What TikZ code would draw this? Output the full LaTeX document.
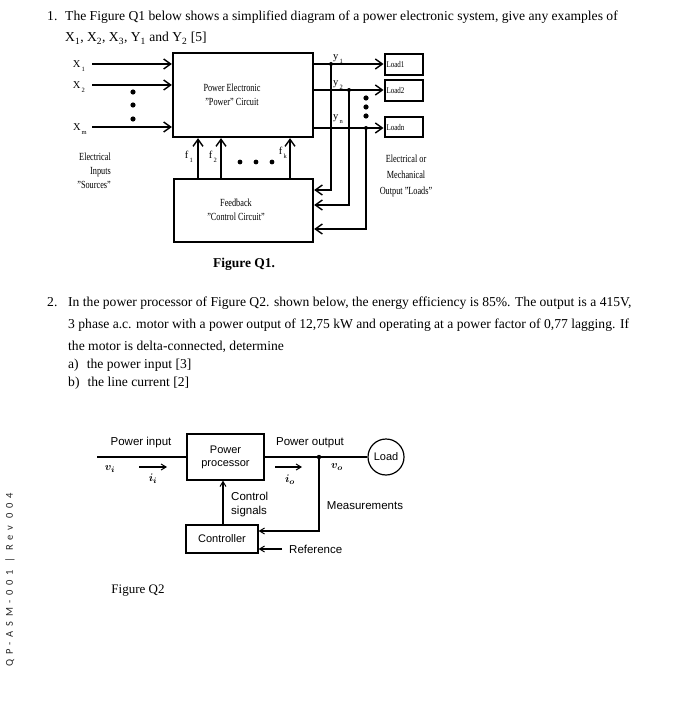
\documentclass[tikz,border=0pt]{standalone}
\usepackage{amsmath}
\usepackage{bm}
\usepackage{graphicx}
\usepackage{fontspec}
\setmainfont{Liberation Serif}
\setsansfont{Liberation Sans}
\newfontfamily\sidefont[LetterSpace=45]{Carlito}
\usetikzlibrary{arrows.meta,calc}
\tikzset{
  qone/.style={line width=1.8pt},
  qonearrow/.style={line width=1.8pt,-{Straight Barb[length=7pt,width=10pt,line width=1.4pt]}},
  qonebox/.style={draw,line width=2.3pt,rectangle,inner sep=0pt},
  loadbox/.style={draw,line width=2pt,rectangle,inner sep=2pt,font=\fontsize{7}{8}\selectfont,text width=34pt,align=left},
  smallserif/.style={font=\fontsize{8.5}{11}\selectfont,inner sep=0pt},
  lbl/.style={font=\fontsize{10.5}{10.5}\selectfont,inner sep=0pt},
  maintext/.style={font=\fontsize{13.6}{16}\selectfont,inner sep=0pt,anchor=base west},
  qtwo/.style={line width=1.1pt},
  qtwoarrow/.style={line width=1.1pt,-{Straight Barb[length=5pt,width=6pt,line width=1pt]}},
  qtwobox/.style={draw,line width=1.2pt,rectangle,inner sep=0pt,font=\sffamily\fontsize{11}{13}\selectfont,align=center},
  sanslbl/.style={font=\sffamily\fontsize{11.5}{14}\selectfont,inner sep=0pt},
  dotf/.style={fill=black}
}
\newcommand{\lsub}[2]{#1\raisebox{-3.5pt}{\fontsize{6.5}{6.5}\selectfont\,#2}}
\newcommand{\tallc}[1]{\scalebox{0.97}[1.28]{\begin{tabular}{@{}c@{}}#1\end{tabular}}}
\newcommand{\tallr}[1]{\scalebox{0.97}[1.28]{\begin{tabular}{@{}r@{}}#1\end{tabular}}}
\newcommand{\talll}[1]{\scalebox{1}[1.25]{#1}}
\begin{document}
\begin{tikzpicture}[x=1pt,y=-1pt]
\useasboundingbox (0,0) rectangle (691,703);
\fill[white] (0,0) rectangle (691,703);

% ---------- Question 1 text ----------
\node[maintext] (q1n) at (47,21) {1.};
\node[maintext] (q1a) at (65,21) {The Figure Q1 below shows a simplified diagram of a power electronic system, give any examples of};
\node[maintext] (q1b) at (65,42) {X\textsubscript{1}, X\textsubscript{2}, X\textsubscript{3}, Y\textsubscript{1} and Y\textsubscript{2} [5]};

% ---------- Figure Q1 ----------
\node[qonebox,minimum width=140pt,minimum height=84pt] (pe) at (243,95) {};
\node[smallserif] (petext) at (232,96) {\tallc{Power Electronic\\"Power" Circuit}};
\node[qonebox,minimum width=139pt,minimum height=63pt] (fb) at (243.5,210.5) {};
\node[smallserif] (fbtext) at (236,211) {\tallc{Feedback\\"Control Circuit"}};

\node[loadbox,minimum height=21pt] (load1) at (403.5,64.5) {\talll{Load1}};
\node[loadbox,minimum height=21pt] (load2) at (403.5,91) {\talll{Load2}};
\node[loadbox,minimum height=20pt] (loadn) at (403.5,127.5) {\talll{Loadn}};

% inputs
\coordinate (x1) at (92,64);
\coordinate (x2) at (92,85);
\coordinate (xm) at (92,127);
\draw[qonearrow] (x1) -- (x1 -| pe.west);
\draw[qonearrow] (x2) -- (x2 -| pe.west);
\draw[qonearrow] (xm) -- (xm -| pe.west);
\node[lbl,anchor=east] (lx1) at (85,66) {\lsub{X}{1}};
\node[lbl,anchor=east] (lx2) at (85,87) {\lsub{X}{2}};
\node[lbl,anchor=east] (lxm) at (87,129) {\lsub{X}{m}};
\fill (133,92) circle (2.6pt) (133,105) circle (2.6pt) (133,119) circle (2.6pt);

% outputs
\coordinate (y1j) at (331,64);
\coordinate (y2j) at (349,90);
\coordinate (ynj) at (366,128);
\draw[qonearrow] (y1j -| pe.east) -- (y1j -| load1.west);
\draw[qonearrow] (y2j -| pe.east) -- (y2j -| load2.west);
\draw[qonearrow] (ynj -| pe.east) -- (ynj -| loadn.west);
\fill (y1j) circle (2pt) (y2j) circle (2pt) (ynj) circle (2pt);
\node[lbl,anchor=west] (ly1) at (333,59) {\lsub{y}{1}};
\node[lbl,anchor=west] (ly2) at (333,85) {\lsub{y}{2}};
\node[lbl,anchor=west] (lyn) at (333,119) {\lsub{y}{n}};
\fill (366,98) circle (2.6pt) (366,107) circle (2.6pt) (366,116) circle (2.6pt);

% feedback paths
\draw[qonearrow] (y1j) |- ([yshift=20.5pt]fb.east);
\draw[qonearrow] (y2j) |- ([yshift=5.5pt]fb.east);
\draw[qonearrow] (ynj) |- ([yshift=-18.5pt]fb.east);

% control signals f
\coordinate (fa) at (198,0);
\coordinate (fbb) at (221,0);
\coordinate (fk) at (290,0);
\draw[qonearrow] (fa |- fb.north) -- (fa |- pe.south);
\draw[qonearrow] (fbb |- fb.north) -- (fbb |- pe.south);
\draw[qonearrow] (fk |- fb.north) -- (fk |- pe.south);
\node[lbl,anchor=east] (lf1) at (193,157) {\lsub{f}{1}};
\node[lbl,anchor=east] (lf2) at (217,157) {\lsub{f}{2}};
\node[lbl,anchor=east] (lfk) at (287,153) {\lsub{f}{k}};
\fill (240,162) circle (2.4pt) (256,162) circle (2.4pt) (272,162) circle (2.4pt);

\node[smallserif,anchor=north east] (srcs) at (111,150) {\tallr{Electrical\\Inputs\\"Sources"}};
\node[smallserif,anchor=north] (lds) at (406,151) {\renewcommand{\arraystretch}{1.13}\tallc{Electrical or\\Mechanical\\Output "Loads"}};

\node[font=\bfseries\fontsize{13.5}{15}\selectfont] (figq1) at (244,264) {Figure Q1.};

% ---------- Question 2 text ----------
\node[maintext] (q2n) at (47,306) {2.};
\node[maintext] (q2a) at (68,306) {In the power processor of Figure Q2. shown below, the energy efficiency is 85\%. The output is a 415V,};
\node[maintext] (q2b) at (68,328) {3 phase a.c. motor with a power output of 12,75 kW and operating at a power factor of 0,77 lagging. If};
\node[maintext] (q2c) at (68,350) {the motor is delta-connected, determine};
\node[maintext] (q2d) at (68,368) {a)\hspace{8pt}the power input [3]};
\node[maintext] (q2e) at (68,386) {b)\hspace{8pt}the line current [2]};

% ---------- Figure Q2 ----------
\node[qtwobox,minimum width=77pt,minimum height=46pt] (pp) at (225.5,457) {Power\\processor};
\node[qtwobox,minimum width=72pt,minimum height=28pt] (ctrl) at (222,539) {Controller};
\node[draw,circle,line width=1.2pt,minimum size=36pt,inner sep=0pt,font=\sffamily\fontsize{11}{13}\selectfont] (load) at (386,457) {Load};

\coordinate (pin) at (97,457);
\draw[qtwo] (pin) -- (pin -| pp.west);
\draw[qtwo] (pp.east) -- (load.west);
\coordinate (mj) at (319,457);
\fill (mj) circle (2.2pt);
\draw[qtwoarrow] (mj) |- ([yshift=8pt]ctrl.east);
\coordinate (ref) at (282,549);
\draw[qtwoarrow] (ref) -- (ref -| ctrl.east);
\coordinate (cs) at (223,0);
\draw[qtwoarrow] (cs |- ctrl.north) -- (cs |- pp.south);

\coordinate (iis) at (139,467);
\coordinate (iie) at (167,467);
\draw[qtwoarrow] (iis) -- (iie);
\coordinate (ios) at (275,467);
\coordinate (ioe) at (302,467);
\draw[qtwoarrow] (ios) -- (ioe);

\node[sanslbl] (pinl) at (141,443) {Power input};
\node[sanslbl] (poutl) at (310,443) {Power output};
\node[lbl,font=\fontsize{11}{11}\selectfont] (vi) at (110,469) {$\bm{v_i}$};
\node[lbl,font=\fontsize{11}{11}\selectfont] (ii) at (153,479) {$\bm{i_i}$};
\node[lbl,font=\fontsize{11}{11}\selectfont] (vo) at (337,467) {$\bm{v_o}$};
\node[lbl,font=\fontsize{11}{11}\selectfont] (io) at (290,480) {$\bm{i_o}$};
\node[sanslbl,align=left,anchor=west] (csl) at (231,505) {Control\\signals};
\node[sanslbl] (meas) at (365,506) {Measurements};
\node[sanslbl,anchor=west] (refl) at (289,549) {Reference};

\node[font=\fontsize{13}{15}\selectfont] (figq2) at (138,591) {Figure Q2};

% side text
\node[rotate=90,font=\sidefont\fontsize{10.5}{12}\selectfont,text=black!85] (side) at (10,580) {QP-ASM-001 | Rev 004};
\end{tikzpicture}
\end{document}
